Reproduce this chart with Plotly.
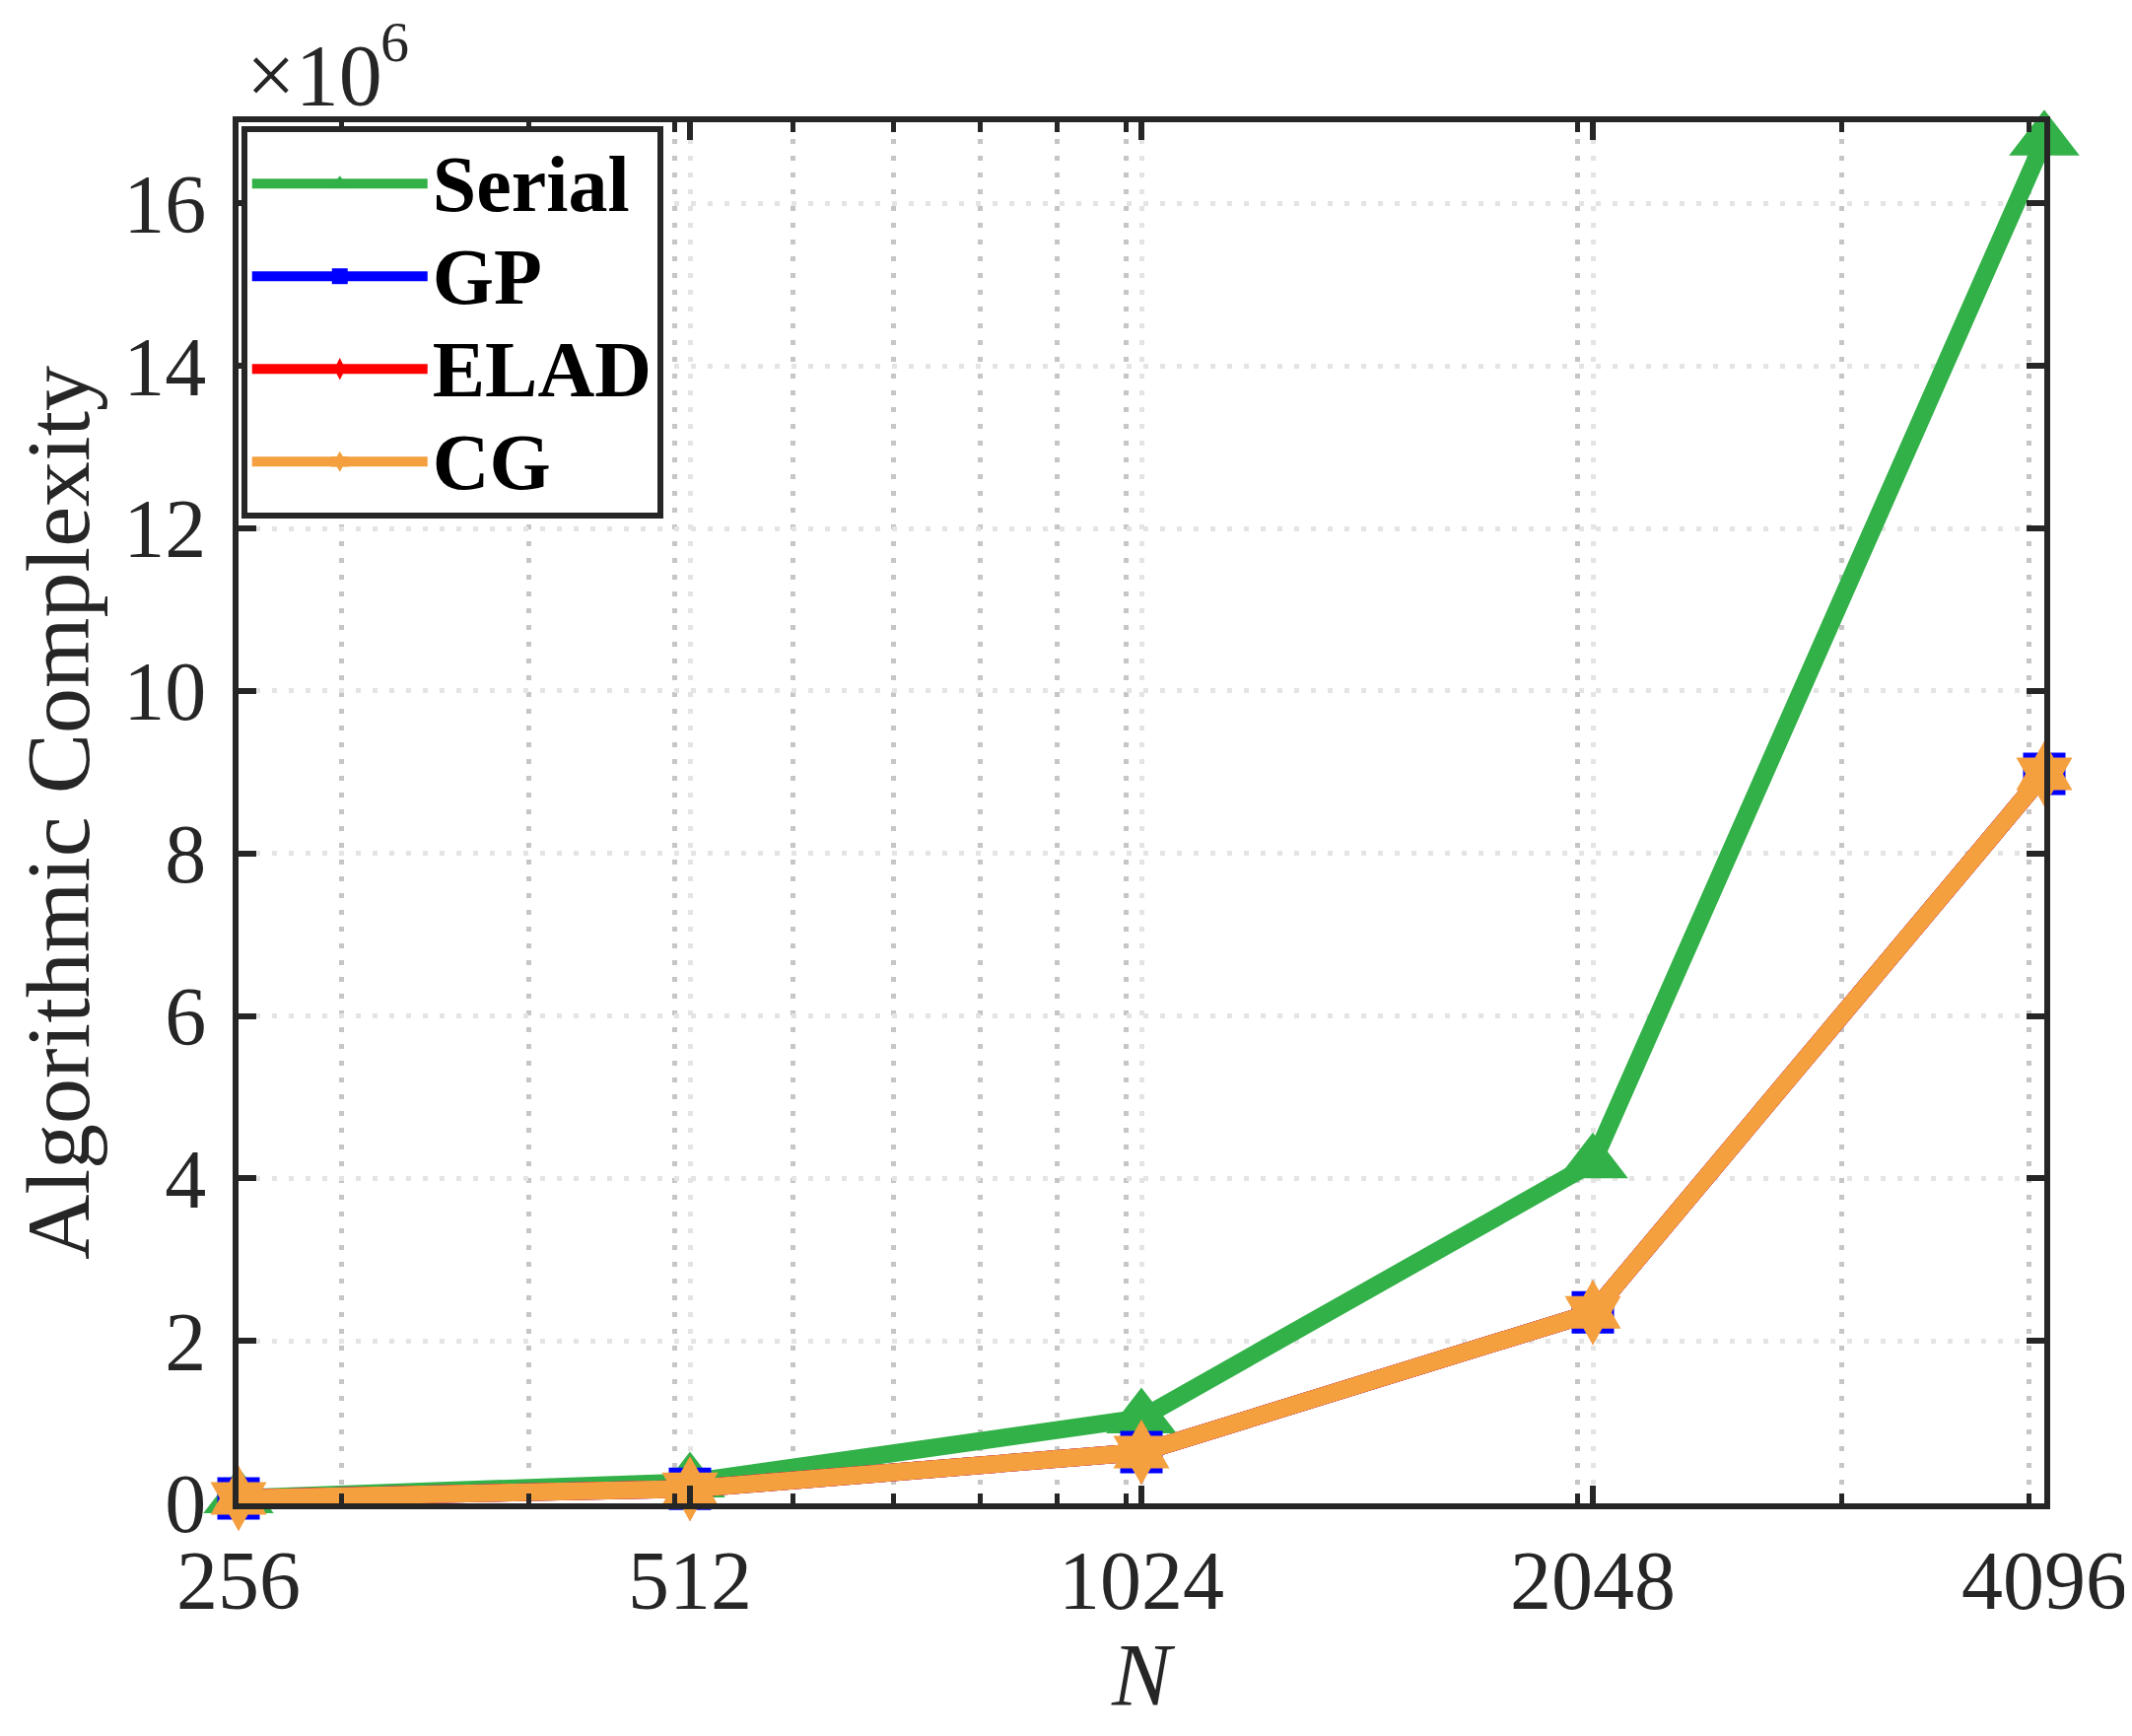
import plotly.graph_objects as go

# ---- data ----
N = [256, 512, 1024, 2048, 4096]
N_labels = ["256", "512", "1024", "2048", "4096"]
serial = [0.066e6, 0.262e6, 1.05e6, 4.19e6, 16.78e6]
gp = [0.062e6, 0.18e6, 0.63e6, 2.35e6, 8.98e6]
elad = [0.062e6, 0.18e6, 0.63e6, 2.35e6, 8.98e6]
cg = [0.062e6, 0.18e6, 0.63e6, 2.35e6, 8.98e6]
series_names = ["Serial", "GP", "ELAD", "CG"]
y_ticks = [0, 2e6, 4e6, 6e6, 8e6, 10e6, 12e6, 14e6, 16e6]
y_ticklabels = ["0", "2", "4", "6", "8", "10", "12", "14", "16"]
x_minor = [300, 400, 500, 600, 700, 800, 900, 1000, 2000, 3000, 4000]

FONT = "Liberation Serif, Times New Roman, serif"
AX = "#262626"

fig = go.Figure()
styles = [
    ("#33B149", "triangle-up", 62),
    ("#0000FF", "square", 43),
    ("#FF0000", "diamond-tall", 47),
    ("#F4A03F", "hexagram", 50),
]
for name, vals, (col, sym, sz) in zip(series_names, [serial, gp, elad, cg], styles):
    fig.add_trace(go.Scatter(
        x=N, y=vals, name=f'<span style="font-size:80px">{name}</span>',
        mode="lines+markers", cliponaxis=False,
        line=dict(color=col, width=18),
        marker=dict(symbol=sym, size=sz, color=col, line=dict(width=0)),
    ))

axis_common = dict(
    showline=True, linecolor=AX, linewidth=6, mirror="ticks",
    ticks="inside", ticklen=18, tickwidth=6, tickcolor=AX,
    showgrid=True, gridcolor="#E4E4E4", gridwidth=5, griddash="5px,12px",
    zeroline=False,
    tickfont=dict(family=FONT, size=84, color=AX),
)

fig.update_xaxes(
    type="log", range=[2.4082399653, 3.6123599607],
    tickmode="array", tickvals=N, ticktext=N_labels,
    title=dict(text="<i>N</i>", font=dict(family=FONT, size=90, color=AX), standoff=14),
    minor=dict(tickmode="array", tickvals=x_minor, ticks="inside", ticklen=10,
               tickwidth=5, tickcolor=AX, showgrid=True, gridcolor="#C6C6C6",
               gridwidth=5, griddash="5px,12px"),
    **axis_common,
)
fig.update_yaxes(
    range=[0, 17e6], tickmode="array", tickvals=y_ticks, ticktext=y_ticklabels,
    ticklabelstandoff=10,
    title=dict(text="Algorithmic Complexity", font=dict(family=FONT, size=92, color=AX), standoff=16),
    **axis_common,
)

# exponent label (x 10^6) above the top-left corner
fig.add_annotation(
    xref="paper", yref="paper", x=0.004, y=1.0, xanchor="left", yanchor="bottom",
    text="×10", showarrow=False, yshift=-2, borderpad=0,
    font=dict(family=FONT, size=88, color=AX),
)
fig.add_annotation(
    xref="paper", yref="paper", x=0.004, y=1.0828, xanchor="left", yanchor="top",
    text="6", showarrow=False, xshift=136, yshift=-1, borderpad=0,
    font=dict(family=FONT, size=58, color=AX),
)

fig.update_layout(
    width=2163, height=1761,
    margin=dict(l=234, r=97, t=116, b=244),
    paper_bgcolor="white", plot_bgcolor="white",
    showlegend=True,
    legend=dict(
        x=0.0015, y=0.997, xanchor="left", yanchor="top",
        bgcolor="white", bordercolor=AX, borderwidth=6,
        font=dict(family=FONT, size=70, color="black", weight="bold"),
        itemwidth=178, tracegroupgap=0,
    ),
)

fig.write_html("out.html")
